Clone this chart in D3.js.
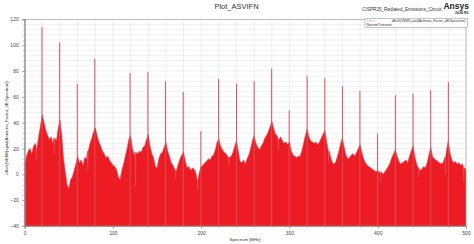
<!DOCTYPE html>
<html>
<head>
<meta charset="utf-8">
<script src="https://cdn.jsdelivr.net/npm/d3@7"></script>
<style>
  body { margin: 0; background: #fff; }
  svg { display: block; font-family: "Liberation Sans", Arial, sans-serif; }
</style>
</head>
<body>
<svg id="chart" width="474" height="244"></svg>
<script>
// envelope of the spectrum, one value every 2 MHz from 0 to 500
var stepMHz = 2;
var envelope = [
  8, 14, 18, 20, 16, 22, 24, 21, 30, 38,
  46, 40, 34, 30, 27, 29, 24, 28, 26, 36,
  42, 30, 12, 2, -8, -11, -4, -2, 3, 8,
  14, 9, 11, 7, 13, 12, 18, 24, 28, 33,
  36, 30, 25, 22, 18, 16, 13, 14, 11, 9,
  7, 6, 4, -2, -4, 3, 8, 14, 20, 27,
  30, 20, 15, 17, 16, 18, 17, 21, 22, 27,
  31, 22, 16, 13, 6, 5, 12, 16, 17, 21,
  25, 18, 14, 9, 7, 4, 3, 8, 12, 15,
  17, 10, 5, 6, 3, 5, 4, 1, -5, 2,
  6, 7, 9, 10, 12, 11, 14, 15, 19, 25,
  27, 22, 19, 17, 16, 14, 13, 14, 17, 22,
  26, 18, 10, 9, 11, 8, 12, 15, 20, 26,
  30, 24, 21, 19, 22, 24, 28, 30, 33, 37,
  41, 36, 31, 30, 27, 29, 26, 24, 25, 23,
  25, 18, 15, 14, 13, 14, 14, 18, 24, 30,
  35, 29, 26, 25, 24, 25, 23, 25, 28, 31,
  34, 26, 18, 15, 10, 8, 9, 13, 18, 24,
  28, 21, 15, 12, 13, 15, 16, 14, 17, 20,
  23, 17, 12, 9, 7, 6, 5, 4, 3, 2,
  3, 1, 2, 0, 2, 4, 6, 9, 13, 16,
  19, 14, 10, 8, 9, 10, 11, 9, 14, 18,
  22, 14, 8, 5, 3, 4, 6, 5, 9, 15,
  21, 14, 12, 11, 10, 9, 8, 9, 13, 19,
  26, 16, 11, 9, 10, 8, 9, 7, 8, 5,
  4
];

// narrow notches in the spectrum [MHz, dBuV]
var notchFreq = [13.2, 33.4, 71.6, 125.6, 171.2, 195.8, 231.4, 287.4, 344.6, 403.2, 446.2, 476.6, 497.6];
var notchLevel = [10, 16, 2, -10, -4, -12, 6, 18, 9, -6, -2, 0, -6];

// harmonic spikes
var spikeFreq = [19.6, 39.6, 59.6, 79.4, 119.4, 139.6, 159.6, 179.6, 199.6, 219.7,
  240, 260, 279.8, 299.7, 320, 340, 360, 379.8, 399.8, 420, 440, 460, 480];
var spikeLevel = [114, 102, 70, 89.5, 78.4, 79.2, 72, 63.7, 33.4, 74,
  70.2, 72.2, 81.8, 49.6, 76, 74.5, 68.3, 64.5, 31.6, 61.2, 62.5, 65, 71.4];

var xTicks = [0, 100, 200, 300, 400, 500];
var yTicks = [-40, -20, 0, 20, 40, 60, 80, 100, 120];

var svg = d3.select("#chart");

var x = d3.scaleLinear().domain([0, 500]).range([24.7, 466]);
var y = d3.scaleLinear().domain([-40, 120]).range([226, 19.3]);

// grid
var grid = svg.append("g");
grid.selectAll(".gx").data(d3.range(0, 501, 20)).enter().append("line")
    .attr("x1", function(d){ return x(d); }).attr("x2", function(d){ return x(d); })
    .attr("y1", y(-40)).attr("y2", y(120))
    .style("stroke", "#e2e2e2").style("stroke-width", 0.6);
grid.selectAll(".gy").data(d3.range(-40, 121, 4)).enter().append("line")
    .attr("y1", function(d){ return y(d); }).attr("y2", function(d){ return y(d); })
    .attr("x1", x(0)).attr("x2", x(500))
    .style("stroke", "#e6e6e6").style("stroke-width", 0.6);

// spectrum points
var pts = envelope.map(function(v, i){ return [i * stepMHz, v]; });
notchFreq.forEach(function(f, i){
  var e = envelope[Math.round(f / stepMHz)];
  pts.push([f - 0.25, e]);
  pts.push([f, notchLevel[i]]);
  pts.push([f + 0.25, e]);
});
pts.sort(function(a, b){ return a[0] - b[0]; });

var area = d3.area()
    .x(function(d){ return x(d[0]); })
    .y0(y(-40))
    .y1(function(d){ return y(d[1]); });

svg.append("path").datum(pts)
    .attr("d", area)
    .style("fill", "#ed1c24");

svg.append("path").datum(pts)
    .attr("d", d3.line().x(function(d){ return x(d[0]); }).y(function(d){ return y(d[1]); }))
    .style("fill", "none").style("stroke", "#e8424a").style("stroke-width", 0.6);

svg.selectAll(".spike").data(spikeFreq).enter().append("line")
    .attr("class", "spike")
    .attr("x1", function(d){ return x(d); }).attr("x2", function(d){ return x(d); })
    .attr("y1", y(-40))
    .attr("y2", function(d, i){ return y(spikeLevel[i]); })
    .style("stroke", "#d9505c").style("stroke-width", 1);

// frame
svg.append("rect")
    .attr("x", x(0)).attr("y", y(120))
    .attr("width", x(500) - x(0)).attr("height", y(-40) - y(120))
    .style("fill", "none").style("stroke", "#9a9a9a").style("stroke-width", 0.6);

// axes
svg.append("g").attr("transform", "translate(0," + y(-40) + ")")
    .call(d3.axisBottom(x).tickValues(xTicks).tickSize(3).tickPadding(2));
svg.append("g").attr("transform", "translate(0," + y(-40) + ")")
    .call(d3.axisBottom(x).tickValues(d3.range(0, 501, 20)).tickSize(1.5).tickFormat(""));
svg.append("g").attr("transform", "translate(" + x(0) + ",0)")
    .call(d3.axisLeft(y).tickValues(yTicks).tickSize(3).tickPadding(3));
svg.append("g").attr("transform", "translate(" + x(0) + ",0)")
    .call(d3.axisLeft(y).tickValues(d3.range(-40, 121, 4)).tickSize(1.5).tickFormat(""));

svg.selectAll(".domain").style("stroke", "#8a8a8a").style("stroke-width", 0.6);
svg.selectAll(".tick line").style("stroke", "#8a8a8a").style("stroke-width", 0.6);
svg.selectAll(".tick text").style("font-size", "5px").style("fill", "#444");

// titles
svg.append("text").attr("x", 236.5).attr("y", 8.5).attr("text-anchor", "middle")
    .style("font-size", "7.5px").style("fill", "#333").text("Plot_ASVIFN");

svg.append("text").attr("x", 245).attr("y", 241).attr("text-anchor", "middle")
    .style("font-size", "4.3px").style("fill", "#333").text("Spectrum [MHz]");

svg.append("text").attr("transform", "translate(7.5,128) rotate(-90)")
    .attr("text-anchor", "middle")
    .style("font-size", "4.3px").style("fill", "#333")
    .text("dBuV(VEMI)+pwl(Antenna_Factor_dB,Spectrum)");

svg.append("text").attr("x", 441.5).attr("y", 10.5).attr("text-anchor", "end")
    .style("font-size", "4.6px").style("fill", "#333").text("CISPR25_Radiated_Emissions_Circuit");
svg.append("text").attr("x", 469).attr("y", 9).attr("text-anchor", "end")
    .style("font-size", "8.5px").style("font-weight", "bold").style("fill", "#222").text("Ansys");
svg.append("text").attr("x", 468.5).attr("y", 13.5).attr("text-anchor", "end")
    .style("font-size", "3.6px").style("font-weight", "bold").style("fill", "#333").text("2024 R2");

// legend
var leg = svg.append("g");
leg.append("rect").attr("x", 365).attr("y", 18.3).attr("width", 102.5).attr("height", 9)
    .style("fill", "#fff").style("stroke", "#888").style("stroke-width", 0.5);
leg.append("line").attr("x1", 367).attr("x2", 376).attr("y1", 20.8).attr("y2", 20.8)
    .style("stroke", "#e8424a").style("stroke-width", 0.6).style("stroke-dasharray", "1.5,0.8");
leg.append("text").attr("x", 465.5).attr("y", 22).attr("text-anchor", "end")
    .style("font-size", "3.4px").style("fill", "#333")
    .text("dBuV(VEMI)+pwl(Antenna_Factor_dB,Spectrum)");
leg.append("text").attr("x", 366.5).attr("y", 26.2)
    .style("font-size", "3.4px").style("fill", "#333").text("NexximTransient");
</script>
</body>
</html>
